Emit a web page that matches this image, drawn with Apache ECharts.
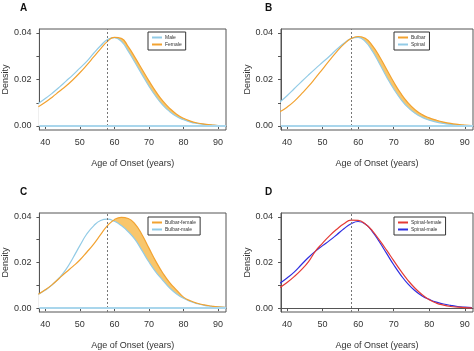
<!DOCTYPE html>
<html>
<head>
<meta charset="utf-8">
<script src="https://cdn.jsdelivr.net/npm/echarts@6/dist/echarts.min.js"></script>
<style>
  html, body { margin: 0; padding: 0; background: #fff; }
  #chart { width: 474px; height: 351px; }
</style>
</head>
<body>
<div id="chart"></div>
<script>
// ages at which the density curves were read
const ages = [38, 40, 42, 44, 46, 48, 50, 52, 54, 56, 58, 60, 62, 64, 66, 68, 70, 72, 74, 76, 78, 80, 82, 84, 86, 88, 90, 92];

// A
const maleA = [.0097, .0118, .0141, .0166, .0193, .0220, .0249, .0278, .0313, .0345, .0372, .0380, .0364, .0322, .0272, .0221, .0171, .0127, .0090, .0062, .0041, .0027, .0017, .0011, .0007, .0004, .0002, .0001];
const femaleA = [.0083, .0102, .0124, .0148, .0172, .0199, .0229, .0262, .0297, .0332, .0364, .0381, .0377, .0341, .0294, .0244, .0194, .0148, .0108, .0076, .0051, .0033, .0021, .0013, .0008, .0005, .0002, .0001];
// B
const bulbarB = [.0061, .0081, .0106, .0137, .0170, .0207, .0245, .0283, .0320, .0352, .0376, .0385, .0377, .0346, .0299, .0244, .0189, .0140, .0100, .0070, .0049, .0035, .0025, .0017, .0011, .0007, .0004, .0002];
const spinalB = [.0103, .0130, .0160, .0190, .0219, .0247, .0274, .0301, .0330, .0356, .0376, .0381, .0363, .0322, .0268, .0211, .0159, .0115, .0080, .0055, .0037, .0025, .0017, .0011, .0007, .0004, .0002, .0001];
// C
const bulbarFemaleC = [.0061, .0080, .0103, .0130, .0157, .0183, .0211, .0245, .0281, .0322, .0362, .0388, .0398, .0393, .0368, .0322, .0263, .0205, .0154, .0112, .0079, .0048, .0032, .0021, .0014, .0009, .0005, .0003];
const bulbarMaleC = [.0061, .0079, .0102, .0132, .0170, .0220, .0274, .0325, .0361, .0384, .0390, .0381, .0362, .0335, .0300, .0252, .0202, .0158, .0122, .0088, .0062, .0043, .0029, .0019, .0012, .0008, .0005, .0003];
// D
const spinalFemaleD = [.0090, .0112, .0138, .0168, .0203, .0250, .0285, .0318, .0346, .0370, .0386, .0385, .0369, .0339, .0298, .0254, .0208, .0163, .0122, .0087, .0059, .0037, .0022, .0013, .0007, .0004, .0002, .0001];
const spinalMaleD = [.0109, .0132, .0158, .0190, .0222, .0250, .0274, .0297, .0322, .0348, .0370, .0380, .0369, .0336, .0290, .0240, .0190, .0145, .0106, .0076, .0053, .0038, .0026, .0018, .0012, .0007, .0004, .0002];

const xTicks = [40, 50, 60, 70, 80, 90];
const yTicks = [0, 0.01, 0.02, 0.03, 0.04];
const yLabels = [0, 0.02, 0.04];
const medianAge = 58;

const font = "Liberation Sans, Arial, sans-serif";
const pts = (ys) => ages.map((a, i) => [a, ys[i]]);

// panel settings: grid box, legend box, curves
const panels = [
  { tag: "A", grid: [36, 29, 190, 101], legend: [148, 32], top: femaleA, topName: "Female", low: maleA, lowName: "Male", legendOrder: ["Male", "Female"], band: true, zero: true, topColor: "#f2a230", lowColor: "#92cbe6" },
  { tag: "B", grid: [281, 29, 192, 101], legend: [394, 32], top: bulbarB, topName: "Bulbar", low: spinalB, lowName: "Spinal", legendOrder: ["Bulbar", "Spinal"], band: true, zero: true, topColor: "#f2a230", lowColor: "#92cbe6" },
  { tag: "C", grid: [36, 213, 190, 100], legend: [148, 217], top: bulbarFemaleC, topName: "Bulbar-female", low: bulbarMaleC, lowName: "Bulbar-male", legendOrder: ["Bulbar-female", "Bulbar-male"], band: true, zero: true, topColor: "#f2a230", lowColor: "#92cbe6" },
  { tag: "D", grid: [281, 213, 192, 100], legend: [394, 217], top: spinalFemaleD, topName: "Spinal-female", low: spinalMaleD, lowName: "Spinal-male", legendOrder: ["Spinal-female", "Spinal-male"], band: false, zero: false, topColor: "#e43a35", lowColor: "#2f2fe0" },
];

const option = {
  animation: false,
  backgroundColor: "#fff",
  textStyle: { fontFamily: font },
  title: [], grid: [], xAxis: [], yAxis: [], legend: [], series: [],
};

panels.forEach((p, i) => {
  const [l, t, w, h] = p.grid;
  option.title.push({
    text: p.tag, left: l - 16, top: t - 26, padding: 0,
    textStyle: { fontSize: 10, fontWeight: "bold", color: "#111", fontFamily: font },
  });
  option.grid.push({ left: l, top: t, width: w, height: h, show: true, borderColor: "#555", borderWidth: 1, backgroundColor: "transparent" });
  option.xAxis.push({
    type: "value", gridIndex: i, min: 38.3, max: 92.3,
    name: "Age of Onset (years)", nameLocation: "middle", nameGap: 29,
    nameTextStyle: { fontSize: 9, color: "#333", fontFamily: font },
    axisLine: { show: true, lineStyle: { color: "#555" } },
    axisTick: { show: true, length: 3, customValues: xTicks, lineStyle: { color: "#555" } },
    axisLabel: { customValues: xTicks, fontSize: 9, color: "#333", margin: 8, fontFamily: font },
    splitLine: { show: false },
  });
  option.yAxis.push({
    type: "value", gridIndex: i, min: -0.00172, max: 0.04172,
    name: "Density", nameLocation: "middle", nameGap: 28, nameRotate: 90,
    nameTextStyle: { fontSize: 9, color: "#333", fontFamily: font },
    axisLine: { show: true, lineStyle: { color: "#555" } },
    axisTick: { show: true, length: 3, customValues: yTicks, lineStyle: { color: "#555" } },
    axisLabel: { customValues: yLabels, fontSize: 9, color: "#333", margin: 8, fontFamily: font, formatter: (v) => v.toFixed(2) },
    splitLine: { show: false },
  });
  option.legend.push({
    left: p.legend[0], top: p.legend[1], orient: "vertical",
    data: p.legendOrder, icon: "rect", itemWidth: 10, itemHeight: 2, itemGap: 2,
    padding: [3, 4, 3, 4], borderColor: "#333", borderWidth: 1, backgroundColor: "#fff",
    textStyle: { fontSize: 5, color: "#333", padding: [0, 0, 0, -2] },
    selectedMode: false,
  });

  const xi = i, yi = i;
  if (p.band) {
    // orange fill under the top curve, masked by white under the low curve
    option.series.push({
      type: "line", xAxisIndex: xi, yAxisIndex: yi, data: pts(p.top), smooth: true, symbol: "none",
      lineStyle: { width: 0 }, areaStyle: { color: "#f8c66c", opacity: 1 }, silent: true,
    });
    option.series.push({
      type: "line", xAxisIndex: xi, yAxisIndex: yi, data: pts(p.low), smooth: true, symbol: "none",
      lineStyle: { width: 0 }, areaStyle: { color: "#fff", opacity: 1 }, silent: true,
    });
  }
  const marks = [{ xAxis: medianAge, lineStyle: { color: "#777", type: [2, 2], width: 1 } }];
  if (p.zero) marks.push({ yAxis: 0, lineStyle: { color: "#a9d6ec", type: "solid", width: 2 } });
  option.series.push({
    name: p.lowName, type: "line", xAxisIndex: xi, yAxisIndex: yi, data: pts(p.low), smooth: true, symbol: "none",
    lineStyle: { width: 1.2, color: p.lowColor }, itemStyle: { color: p.lowColor },
    markLine: { symbol: "none", silent: true, label: { show: false }, data: marks },
  });
  option.series.push({
    name: p.topName, type: "line", xAxisIndex: xi, yAxisIndex: yi, data: pts(p.top), smooth: true, symbol: "none",
    lineStyle: { width: 1.2, color: p.topColor }, itemStyle: { color: p.topColor },
  });
});

const myChart = echarts.init(document.getElementById("chart"));
myChart.setOption(option);
</script>
</body>
</html>
